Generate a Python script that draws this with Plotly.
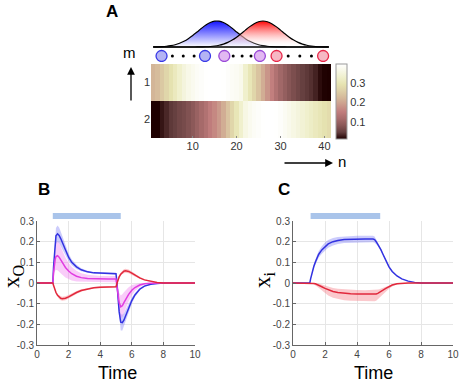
import numpy as np
import plotly.graph_objects as go

W, H = 474, 385

# ---------------- Panel A data ----------------
n_idx = list(range(1, 42))
heat_row1 = [0.22, 0.23, 0.25, 0.27, 0.29, 0.31, 0.33, 0.35, 0.365, 0.375, 0.385, 0.39, 0.395, 0.397,
             0.397, 0.397, 0.395, 0.39, 0.385, 0.38, 0.37, 0.33, 0.30, 0.27, 0.24, 0.21, 0.18, 0.155,
             0.13, 0.11, 0.095, 0.08, 0.07, 0.06, 0.05, 0.045, 0.04, 0.032, 0.02, 0.014, 0.013]
heat_row2 = [0.013, 0.013, 0.025, 0.035, 0.045, 0.05, 0.06, 0.065, 0.075, 0.085, 0.10, 0.115, 0.13,
             0.15, 0.165, 0.185, 0.21, 0.24, 0.27, 0.30, 0.33, 0.36, 0.375, 0.385, 0.39, 0.395, 0.397,
             0.397, 0.395, 0.39, 0.38, 0.37, 0.36, 0.35, 0.34, 0.33, 0.32, 0.31, 0.30, 0.29, 0.28]
m_labels = [1, 2]
cbar_ticks = [0.1, 0.2, 0.3]
z_range = [0.013, 0.397]

tuning_blue = [0.0034, 0.0072, 0.0147, 0.028, 0.051, 0.087, 0.142, 0.219, 0.319, 0.441, 0.578, 0.718,
               0.845, 0.941, 0.993, 0.993, 0.941, 0.845, 0.718, 0.578, 0.441, 0.319, 0.219, 0.142,
               0.087, 0.051, 0.028, 0.015, 0.007, 0.003, 0.001, 0, 0, 0, 0, 0, 0, 0, 0, 0, 0]
tuning_red = [0, 0, 0, 0, 0, 0, 0, 0, 0, 0, 0.002, 0.005, 0.010, 0.020, 0.038, 0.067, 0.112, 0.177,
              0.266, 0.378, 0.509, 0.649, 0.784, 0.897, 0.973, 1.0, 0.973, 0.897, 0.784, 0.649, 0.509,
              0.378, 0.266, 0.177, 0.112, 0.067, 0.038, 0.020, 0.010, 0.005, 0.002]

unit_pos = [2.9, 12.8, 17.2, 25.3, 29.1, 39.7]
unit_group = ["blue", "blue", "purple", "purple", "red", "red"]

# ---------------- Panel B data (x_O) ----------------
t_B = [0, 1.0, 1.05, 1.1, 1.15, 1.2, 1.3, 1.4, 1.5, 1.6, 1.8, 2.0, 2.2, 2.5, 2.8, 3.2, 3.6, 4.0, 4.5,
       5.0, 5.05, 5.1, 5.15, 5.2, 5.3, 5.4, 5.5, 5.6, 5.8, 6.0, 6.2, 6.5, 6.8, 7.2, 7.6, 8.0, 10.0]
blue_B = [0, 0, 0.08, 0.15, 0.2, 0.228, 0.238, 0.23, 0.215, 0.198, 0.16, 0.125, 0.1, 0.078, 0.064,
          0.054, 0.049, 0.047, 0.046, 0.045, 0.01, -0.04, -0.09, -0.14, -0.19, -0.192, -0.18, -0.16,
          -0.12, -0.085, -0.058, -0.03, -0.015, -0.006, -0.002, 0, 0]
blue_B_err = [0, 0, 0.01, 0.02, 0.03, 0.038, 0.04, 0.038, 0.034, 0.03, 0.024, 0.018, 0.014, 0.01,
              0.007, 0.005, 0.004, 0.004, 0.004, 0.004, 0.008, 0.015, 0.022, 0.03, 0.04, 0.038, 0.034,
              0.03, 0.022, 0.015, 0.01, 0.006, 0.003, 0.001, 0, 0, 0]
mag_B = [0, 0, 0.05, 0.09, 0.115, 0.128, 0.132, 0.125, 0.112, 0.098, 0.075, 0.058, 0.045, 0.033,
         0.026, 0.022, 0.02, 0.019, 0.019, 0.019, -0.01, -0.04, -0.07, -0.095, -0.115, -0.11, -0.095,
         -0.08, -0.055, -0.035, -0.022, -0.01, -0.004, -0.001, 0, 0, 0]
mag_B_err = [0, 0, 0.02, 0.04, 0.055, 0.065, 0.07, 0.068, 0.063, 0.058, 0.048, 0.04, 0.033, 0.026,
             0.021, 0.018, 0.016, 0.015, 0.015, 0.015, 0.02, 0.03, 0.04, 0.048, 0.055, 0.055, 0.05,
             0.045, 0.035, 0.025, 0.017, 0.009, 0.004, 0.001, 0, 0, 0]
red_B = [0, 0, -0.012, -0.025, -0.036, -0.046, -0.06, -0.069, -0.074, -0.076, -0.074, -0.067, -0.058,
         -0.046, -0.036, -0.028, -0.023, -0.02, -0.019, -0.018, -0.005, 0.008, 0.02, 0.03, 0.043,
         0.052, 0.057, 0.059, 0.056, 0.048, 0.038, 0.025, 0.015, 0.007, 0.002, 0, 0]
red_B_err = [0, 0, 0.002, 0.004, 0.005, 0.006, 0.008, 0.009, 0.01, 0.01, 0.01, 0.009, 0.008, 0.007,
             0.006, 0.005, 0.004, 0.004, 0.004, 0.004, 0.004, 0.005, 0.006, 0.007, 0.008, 0.009, 0.01,
             0.01, 0.009, 0.008, 0.007, 0.005, 0.003, 0.002, 0.001, 0, 0]
stim_B = [1.0, 5.3]

# ---------------- Panel C data (x_i) ----------------
t_C = [0, 1.05, 1.1, 1.2, 1.3, 1.4, 1.5, 1.6, 1.8, 2.0, 2.2, 2.5, 2.8, 3.2, 3.6, 4.0, 4.5, 5.0, 5.1,
       5.2, 5.3, 5.4, 5.5, 5.6, 5.8, 6.0, 6.2, 6.5, 6.8, 7.2, 7.6, 8.0, 10.0]
blue_C = [0, 0, 0.02, 0.055, 0.08, 0.102, 0.12, 0.138, 0.16, 0.177, 0.189, 0.2, 0.206, 0.21, 0.212,
          0.213, 0.213, 0.213, 0.21, 0.2, 0.188, 0.175, 0.16, 0.143, 0.107, 0.078, 0.056, 0.034,
          0.02, 0.009, 0.003, 0, 0]
blue_C_err = [0, 0, 0.003, 0.006, 0.009, 0.012, 0.014, 0.016, 0.018, 0.019, 0.019, 0.018, 0.017,
              0.016, 0.016, 0.016, 0.016, 0.016, 0.015, 0.012, 0.008, 0.006, 0.005, 0.004, 0.004,
              0.003, 0.003, 0.002, 0.001, 0, 0, 0, 0]
red_C = [0, 0, 0, 0, -0.002, -0.004, -0.007, -0.01, -0.018, -0.026, -0.033, -0.041, -0.046, -0.05,
         -0.052, -0.053, -0.054, -0.054, -0.054, -0.053, -0.05, -0.046, -0.041, -0.036, -0.026,
         -0.017, -0.01, -0.004, -0.001, 0, 0, 0, 0]
red_C_err_hi = [0, 0, 0, 0.001, 0.002, 0.004, 0.005, 0.007, 0.01, 0.013, 0.015, 0.017, 0.018, 0.019,
                0.019, 0.019, 0.019, 0.019, 0.019, 0.019, 0.018, 0.016, 0.014, 0.012, 0.009, 0.006,
                0.004, 0.002, 0.001, 0, 0, 0, 0]
red_C_err_lo = [0, 0, 0, 0.002, 0.004, 0.007, 0.01, 0.013, 0.018, 0.023, 0.027, 0.03, 0.032, 0.033,
                0.034, 0.034, 0.034, 0.034, 0.034, 0.033, 0.031, 0.028, 0.025, 0.022, 0.016, 0.011,
                0.007, 0.003, 0.001, 0, 0, 0, 0]
stim_C = [1.1, 5.45]

y_ticks = [-0.3, -0.2, -0.1, 0, 0.1, 0.2, 0.3]
y_tick_text = ["-0.3", "-0.2", "-0.1", "0", "0.1", "0.2", "0.3"]
x_ticks = [0, 2, 4, 6, 8, 10]


# ---------------- helpers ----------------
def px_x(p):
    return p / W


def px_y(p):
    return 1 - p / H


def pink_scale(k=12):
    stops = []
    for i in range(k):
        t = i / (k - 1)
        r = min(1.0, t / 0.375 + 0.0417)
        g = min(1.0, max(0.0, (t - 0.375) / 0.375))
        b = min(1.0, max(0.0, (t - 0.75) / 0.25))
        rr, gg, bb = [np.sqrt((2 * t + c) / 3) for c in (r, g, b)]
        stops.append([t, f"rgb({int(rr*255)},{int(gg*255)},{int(bb*255)})"])
    return stops


fig = go.Figure()

# heatmap
fig.add_trace(go.Heatmap(
    z=[heat_row1, heat_row2], x=n_idx, y=m_labels, xaxis="x", yaxis="y",
    colorscale=pink_scale(), zmin=z_range[0], zmax=z_range[1],
    colorbar=dict(x=px_x(336), xanchor="left", xpad=0, ypad=0,
                  y=px_y(101.5), yanchor="middle", len=75, lenmode="pixels",
                  thickness=11, thicknessmode="pixels", outlinecolor="#9a9a9a", outlinewidth=1,
                  tickvals=cbar_ticks, ticks="", tickfont=dict(size=11, color="#333")),
    showscale=True, hoverinfo="skip"))

# tuning curves
fig.add_trace(go.Scatter(
    x=n_idx, y=tuning_blue, xaxis="x2", yaxis="y2", mode="lines", line=dict(color="black", width=1.2),
    fill="tozeroy", fillgradient=dict(type="vertical", start=0, stop=1,
                                      colorscale=[[0, "rgba(255,255,255,1)"], [1, "rgb(20,20,255)"]]),
    line_shape="spline", hoverinfo="skip", showlegend=False))
fig.add_trace(go.Scatter(
    x=n_idx, y=tuning_red, xaxis="x2", yaxis="y2", mode="lines", line=dict(color="black", width=1.2),
    fill="tozeroy", fillgradient=dict(type="vertical", start=0, stop=1,
                                      colorscale=[[0, "rgba(255,255,255,0)"], [0.35, "rgba(255,190,190,0.6)"],
                                                  [1, "rgb(255,0,0)"]]),
    line_shape="spline", hoverinfo="skip", showlegend=False))
# baseline
fig.add_trace(go.Scatter(x=[n_idx[0], n_idx[-1]], y=[0, 0], xaxis="x2", yaxis="y2", mode="lines",
                         line=dict(color="black", width=1.4), hoverinfo="skip", showlegend=False))

# unit circles and dots
fills = {"blue": "#b4b4f4", "purple": "#e2b8f2", "red": "#f6b8c4"}
edges = {"blue": "#3a3ae6", "purple": "#9a4ad8", "red": "#e8284a"}
circ_y = -0.346
dots_x = []
for i in range(0, len(unit_pos), 2):
    a, b = unit_pos[i], unit_pos[i + 1]
    dots_x += list(np.linspace(a, b, 5)[1:-1])
fig.add_trace(go.Scatter(x=dots_x, y=[circ_y] * len(dots_x), xaxis="x2", yaxis="y2", mode="markers",
                         marker=dict(size=3, color="black"), hoverinfo="skip", showlegend=False))
fig.add_trace(go.Scatter(x=unit_pos, y=[circ_y] * len(unit_pos), xaxis="x2", yaxis="y2", mode="markers",
                         marker=dict(size=11, color=[fills[g] for g in unit_group],
                                     line=dict(color=[edges[g] for g in unit_group], width=1.3)),
                         hoverinfo="skip", showlegend=False))


def band(t, y, lo, hi, xa, ya, fillcol):
    up = [a + b for a, b in zip(y, hi)]
    dn = [a - b for a, b in zip(y, lo)]
    fig.add_trace(go.Scatter(x=list(t) + list(t[::-1]), y=up + dn[::-1], xaxis=xa, yaxis=ya,
                             mode="lines", line=dict(width=0), fill="toself", fillcolor=fillcol,
                             hoverinfo="skip", showlegend=False))


def line(t, y, xa, ya, col):
    fig.add_trace(go.Scatter(x=t, y=y, xaxis=xa, yaxis=ya, mode="lines",
                             line=dict(color=col, width=1.5), hoverinfo="skip", showlegend=False))


# panel B
band(t_B, blue_B, blue_B_err, blue_B_err, "x3", "y3", "rgba(110,110,245,0.35)")
band(t_B, mag_B, mag_B_err, mag_B_err, "x3", "y3", "rgba(240,120,240,0.38)")
band(t_B, red_B, red_B_err, red_B_err, "x3", "y3", "rgba(250,110,120,0.4)")
line(t_B, blue_B, "x3", "y3", "rgb(50,50,225)")
line(t_B, mag_B, "x3", "y3", "rgb(225,60,225)")
line(t_B, red_B, "x3", "y3", "rgb(225,40,60)")

# panel C
band(t_C, blue_C, blue_C_err, blue_C_err, "x4", "y4", "rgba(110,110,245,0.35)")
band(t_C, red_C, red_C_err_lo, red_C_err_hi, "x4", "y4", "rgba(245,120,130,0.4)")
line(t_C, blue_C, "x4", "y4", "rgb(50,50,225)")
line(t_C, red_C, "x4", "y4", "rgb(225,40,60)")

tick_font = dict(family="Liberation Sans", size=10, color="#444")
line_ax = dict(range=[0, 10], tickvals=x_ticks, showgrid=True, gridcolor="#e6e6e6", gridwidth=1,
               zeroline=False, showline=True, linecolor="#666", linewidth=1, ticks="inside",
               ticklen=3, tickcolor="#666", tickfont=tick_font, mirror=False, automargin=False)
line_ay = dict(range=[-0.3, 0.3], tickvals=y_ticks, ticktext=y_tick_text, showgrid=True,
               gridcolor="#e6e6e6", gridwidth=1, zeroline=False, showline=True, linecolor="#666",
               linewidth=1, ticks="inside", ticklen=3, tickcolor="#666", tickfont=tick_font,
               automargin=False)

fig.update_layout(
    width=W, height=H, margin=dict(l=0, r=0, t=0, b=0, pad=0), paper_bgcolor="white",
    plot_bgcolor="white",
    showlegend=False, font=dict(family="Liberation Sans", color="#222"),
    xaxis=dict(domain=[px_x(151), px_x(331)], range=[0.5, 41.5], anchor="y", tickvals=[10, 20, 30, 40],
               ticks="inside", ticklen=2, tickcolor="#888", showgrid=False, zeroline=False,
               showline=False, tickfont=dict(size=11, color="#333"), automargin=False),
    yaxis=dict(domain=[px_y(138), px_y(64)], range=[2.5, 0.5], anchor="x", tickvals=m_labels,
               ticks="", showgrid=False, zeroline=False, tickfont=dict(size=11, color="#333"),
               automargin=False),
    xaxis2=dict(domain=[px_x(151), px_x(331)], range=[0.5, 41.5], anchor="y2", visible=False,
                automargin=False),
    yaxis2=dict(domain=[px_y(62), px_y(15)], range=[-0.577, 1.231], anchor="x2", visible=False,
                automargin=False),
    xaxis3=dict(domain=[px_x(37), px_x(195)], anchor="y3", **line_ax),
    yaxis3=dict(domain=[px_y(345), px_y(221)], anchor="x3", **line_ay),
    xaxis4=dict(domain=[px_x(293), px_x(453)], anchor="y4", **line_ax),
    yaxis4=dict(domain=[px_y(345), px_y(221)], anchor="x4", **line_ay),
)

bar_col = "#a9c4ea"
for xa, st in (("x3", stim_B), ("x4", stim_C)):
    fig.add_shape(type="rect", xref=xa, yref="paper", x0=st[0], x1=st[1], y0=px_y(219), y1=px_y(213),
                  fillcolor=bar_col, line=dict(width=0))


def label(text, x, y, size, family="Liberation Sans", angle=0):
    return dict(text=text, x=px_x(x), y=px_y(y), xref="paper", yref="paper", showarrow=False,
                xanchor="center", yanchor="middle", textangle=angle,
                font=dict(size=size, color="black", family=family))


ann = []
for txt, x, y in (("A", 112, 11), ("B", 44, 190), ("C", 284, 190)):
    ann.append(label(f"<b>{txt}</b>", x, y, 17))
for x in (117, 373):
    ann.append(label("Time", x, 373, 18))
ann.append(label("x<sub>O</sub>", 13, 277, 23, "Liberation Serif", -90))
ann.append(label("x<sub>i</sub>", 264, 280, 23, "Liberation Serif", -90))
ann.append(label("m", 129, 52, 15))
ann.append(label("n", 342, 161, 15))
ann.append(dict(text="", x=px_x(131), y=px_y(67), xref="paper", yref="paper", showarrow=True,
                ax=0, ay=35, arrowhead=2, arrowsize=1.2, arrowwidth=1.3, arrowcolor="black"))
ann.append(dict(text="", x=px_x(333), y=px_y(163), xref="paper", yref="paper", showarrow=True,
                ax=-50, ay=0, arrowhead=2, arrowsize=1.2, arrowwidth=1.3, arrowcolor="black"))
fig.update_layout(annotations=ann)

fig.write_html("out.html", config={"displayModeBar": False},
               post_script="document.body.style.margin='0';document.body.style.padding='0';"
                           "document.body.style.overflow='hidden';")
